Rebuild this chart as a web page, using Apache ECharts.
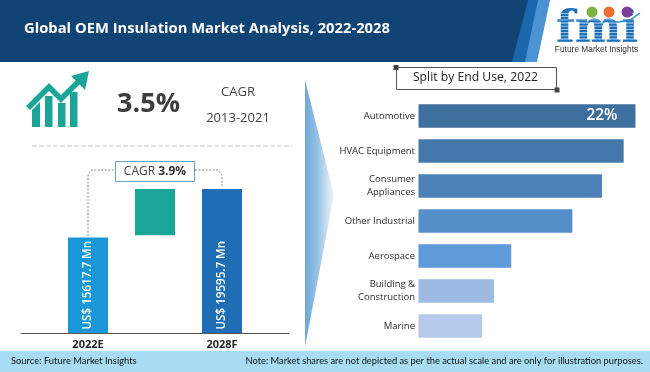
<!DOCTYPE html>
<html><head><meta charset="utf-8">
<style>html,body{margin:0;padding:0;background:#fff}#c{width:650px;height:372px}</style>
<script src="https://cdn.jsdelivr.net/npm/echarts@6/dist/echarts.min.js"></script>
</head><body><div id="c"></div>
<script>
const marketCategories = ['', '2022E', '', '2028F', ''];
const marketValues = [null, 15617.7, null, 19595.7, null];
const marketLabels = ['', 'US$ 15617.7 Mn', '', 'US$ 19595.7 Mn', ''];
const gapBase = [null, null, 15800, null, null];
const gapSize = [null, null, 3795.7, null, null];
const useCategories = ['Automotive', 'HVAC Equipment', 'Consumer\nAppliances', 'Other Industrial', 'Aerospace', 'Building &\nConstruction', 'Marine'];
const useShares = [22, 20.8, 18.6, 15.6, 9.4, 7.65, 6.45];
const useColors = ['#3f6f9e', '#4478aa', '#4c82b8', '#548fc9', '#5f9bd8', '#9dbae2', '#b4cae8'];
const useLabels = ['22%', '', '', '', '', '', ''];
const font = '"Open Sans", sans-serif';
const noteFont = 'Lato, sans-serif';
const chart = echarts.init(document.getElementById('c'), null, {renderer: 'canvas'});
const stripes = [];
for (let y = 13; y < 44; y += 3.2) stripes.push({type: 'rect', z: 12, shape: {x: 555, y: y, width: 84, height: 0.8}, style: {fill: 'rgba(255,255,255,0.75)'}});
chart.setOption({
  animation: false,
  backgroundColor: '#fff',
  grid: [
    {left: 21, width: 268, top: 189, height: 144},
    {left: 418.5, width: 217, top: 98.5, height: 245}
  ],
  xAxis: [
    {gridIndex: 0, type: 'category', boundaryGap: false, data: marketCategories,
     axisTick: {show: false}, axisLine: {lineStyle: {color: '#555', width: 1}},
     axisLabel: {interval: 0, color: '#222', fontFamily: font, fontWeight: 'bold', fontSize: 11, margin: 6}},
    {gridIndex: 1, type: 'value', min: 0, max: 22, show: false}
  ],
  yAxis: [
    {gridIndex: 0, type: 'value', min: 7800, max: 19595.7, show: false},
    {gridIndex: 1, type: 'category', inverse: true, data: useCategories,
     axisTick: {show: false}, axisLine: {show: false},
     axisLabel: {color: '#2b2b2b', fontFamily: font, fontSize: 9.5, lineHeight: 13, margin: 3.5, align: 'right'}}
  ],
  series: [
    {type: 'bar', xAxisIndex: 0, yAxisIndex: 0, barWidth: 40, barGap: '-100%',
     data: marketValues.map((v, i) => ({value: v,
       itemStyle: {color: i === 1 ? '#1b96d8' : '#1f6db4'},
       label: {show: v !== null, formatter: marketLabels[i], position: 'insideBottom', distance: 3.5, rotate: 90, align: 'left', verticalAlign: 'middle', color: '#fff', fontFamily: font, fontSize: 11.6, fontWeight: 600}}))},
    {type: 'bar', xAxisIndex: 0, yAxisIndex: 0, barWidth: 40, stack: 'gap', data: gapBase, itemStyle: {color: 'rgba(0,0,0,0)'}, silent: true},
    {type: 'bar', xAxisIndex: 0, yAxisIndex: 0, barWidth: 40, stack: 'gap', data: gapSize, itemStyle: {color: '#1ba596'}},
    {type: 'bar', xAxisIndex: 1, yAxisIndex: 1, barWidth: 23.5,
     data: useShares.map((v, i) => ({value: v, itemStyle: {color: useColors[i]},
       label: {show: !!useLabels[i], formatter: useLabels[i], position: 'insideRight', distance: 18, color: '#fff', fontFamily: font, fontSize: 15.5, fontWeight: 600}}))}
  ],
  graphic: [
    {type: 'polygon', z: 1, shape: {points: [[500,0],[550,0],[537,62],[490,62]]}, style: {fill: '#4b93d3'}},
    {type: 'polygon', z: 2, shape: {points: [[500,0],[538,0],[525,62],[490,62]]}, style: {fill: '#1c66ad'}},
    {type: 'polygon', z: 3, shape: {points: [[0,0],[528,0],[512,62],[0,62]]}, style: {fill: '#114475'}},
    {type: 'text', z: 4, style: {x: 24, y: 29, text: 'Global OEM Insulation Market Analysis, 2022-2028', font: 'bold 14.75px ' + font, fill: '#fff', verticalAlign: 'middle'}},
    // logo
    {type: 'text', z: 11, style: {x: 597, y: 53, text: 'fmi', font: 'bold 44px "DejaVu Serif"', fill: '#1e70ba', align: 'center', verticalAlign: 'bottom'}},
    ...stripes,
    {type: 'polyline', z: 13, shape: {points: [[604,20],[618,22],[630,20],[640,13]]}, style: {stroke: '#2f86c9', lineWidth: 1.5, fill: 'none'}},
    {type: 'circle', z: 13, shape: {cx: 592, cy: 12, r: 5.5}, style: {fill: '#7cb342'}},
    {type: 'circle', z: 13, shape: {cx: 609, cy: 12, r: 5.5}, style: {fill: '#ef6c35'}},
    {type: 'circle', z: 13, shape: {cx: 627, cy: 12, r: 5.5}, style: {fill: '#7b3f98'}},
    {type: 'text', z: 13, style: {x: 596.5, y: 50, text: 'Future Market Insights', font: '8.4px "Liberation Sans"', fill: '#333', align: 'center', verticalAlign: 'middle'}},
    // growth icon
    {type: 'polyline', z: 5, shape: {points: [[28,108],[49,87],[61,99],[82,78]]}, style: {stroke: '#1ba596', lineWidth: 5.5, fill: 'none'}},
    {type: 'polygon', z: 5, shape: {points: [[71,76],[89,71],[85,90]]}, style: {fill: '#1ba596'}},
    {type: 'polygon', z: 5, shape: {points: [[32,127],[32,110],[40,102],[40,127]]}, style: {fill: '#1ba596'}},
    {type: 'rect', z: 5, shape: {x: 45, y: 96, width: 7.5, height: 31}, style: {fill: '#1ba596'}},
    {type: 'rect', z: 5, shape: {x: 58, y: 103, width: 7.5, height: 24}, style: {fill: '#1ba596'}},
    {type: 'rect', z: 5, shape: {x: 70, y: 92, width: 7.5, height: 35}, style: {fill: '#1ba596'}},
    {type: 'text', z: 5, style: {x: 148.5, y: 104, text: '3.5%', font: 'bold 27px ' + font, fill: '#3d3d3d', align: 'center', verticalAlign: 'middle'}},
    {type: 'text', z: 5, style: {x: 238, y: 92, text: 'CAGR', font: '13px ' + font, fill: '#444', align: 'center', verticalAlign: 'middle'}},
    {type: 'text', z: 5, style: {x: 238, y: 118, text: '2013-2021', font: '13px ' + font, fill: '#444', align: 'center', verticalAlign: 'middle'}},
    {type: 'line', z: 5, shape: {x1: 32, y1: 146, x2: 292, y2: 146}, style: {stroke: '#c4c4c4', lineWidth: 1, lineDash: [5, 2]}},
    // CAGR bracket
    {type: 'polyline', z: 5, shape: {points: [[88,236],[88,175],[91,170],[115,170]]}, style: {stroke: '#888', lineWidth: 1, lineDash: [2, 1.5], fill: 'none'}},
    {type: 'polyline', z: 5, shape: {points: [[195,170],[218,170],[222,175],[222,187]]}, style: {stroke: '#888', lineWidth: 1, lineDash: [2, 1.5], fill: 'none'}},
    {type: 'rect', z: 5, shape: {x: 115.5, y: 161.5, width: 79, height: 20}, style: {fill: '#fff', stroke: '#6f9fc0', lineWidth: 1}},
    {type: 'text', z: 6, style: {x: 155, y: 172, text: '{a|CAGR }{b|3.9%}', rich: {a: {font: '12px ' + font, fill: '#444'}, b: {font: 'bold 12px ' + font, fill: '#333'}}, align: 'center', verticalAlign: 'middle'}},
    // funnel
    {type: 'polygon', z: 1, shape: {points: [[305,80],[334,195],[305,347]]},
     style: {fill: new echarts.graphic.LinearGradient(0, 0, 1, 0, [{offset: 0, color: '#6ea8d8'}, {offset: 0.45, color: '#9ac3e4'}, {offset: 1, color: '#f2f7fb'}])}},
    // split title
    {type: 'rect', z: 5, shape: {x: 396.5, y: 67.5, width: 160, height: 22}, style: {fill: '#fff', stroke: '#555', lineWidth: 1}},
    {type: 'rect', z: 6, shape: {x: 393.5, y: 65, width: 5, height: 5}, style: {fill: '#444'}},
    {type: 'rect', z: 6, shape: {x: 554.5, y: 87.5, width: 5, height: 5}, style: {fill: '#444'}},
    {type: 'text', z: 6, style: {x: 475.5, y: 78, text: 'Split by End Use, 2022', font: '12.2px ' + font, fill: '#222', align: 'center', verticalAlign: 'middle'}},
    // footer
    {type: 'rect', z: 1, shape: {x: 0, y: 351, width: 650, height: 21}, style: {fill: '#a8dcf3'}},
    {type: 'text', z: 2, style: {x: 11, y: 361, text: 'Source: Future Market Insights', font: '9.4px ' + noteFont, fill: '#111', verticalAlign: 'middle'}},
    {type: 'text', z: 2, style: {x: 643, y: 361, text: 'Note: Market shares are not depicted as per the actual scale and are only for illustration purposes.', font: '9.3px ' + noteFont, fill: '#111', align: 'right', verticalAlign: 'middle'}}
  ]
});
</script></body></html>
